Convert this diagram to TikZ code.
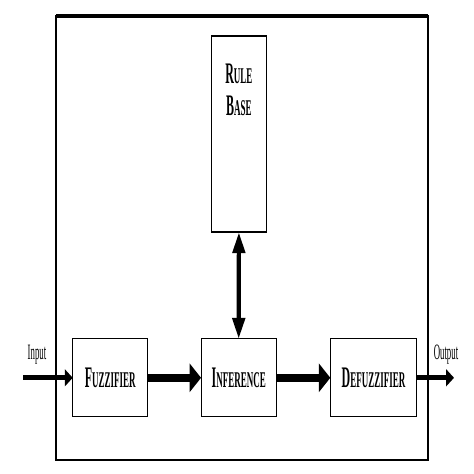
\documentclass[tikz,border=0pt]{standalone}
\usepackage{fontspec}
\usepackage{tikz}
\usetikzlibrary{arrows.meta,positioning}
\newfontfamily\blockfont[FakeStretch=0.4]{Liberation Serif}
\newcommand{\smallcap}[2]{{\blockfont\bfseries{\fontsize{17}{18}\selectfont #1}{\fontsize{12.8}{13}\selectfont #2}}}
\pgfdeclarelayer{edgelayer}
\pgfdeclarelayer{nodelayer}
\pgfsetlayers{edgelayer,nodelayer,main}
\tikzstyle{block}=[rectangle, draw=black, fill=white, line width=0.6pt, inner sep=0pt, outer sep=0pt, minimum height=1.554cm]
\tikzstyle{tag}=[inner sep=0pt, font=\blockfont\fontsize{12.5}{13}\selectfont]
\tikzstyle{flow}=[-{Triangle[width=16pt,length=6.5pt]}, line width=4.5pt, draw=black]
\tikzstyle{signal}=[-{Triangle[width=9.6pt,length=4.5pt]}, line width=2.8pt, draw=black]
\tikzstyle{link}=[{Triangle[width=7pt,length=12pt]}-{Triangle[width=7pt,length=12pt]}, line width=2.4pt, draw=black]

\begin{document}
\begin{tikzpicture}[x=0.02cm, y=-0.02cm]
            \useasboundingbox (0,0) rectangle (474,474);
            \begin{pgfonlayer}{nodelayer}
                \node [style=block, minimum width=1.5cm] (fuzz) at (110.2, 377.8) {\smallcap{F}{UZZIFIER}};
                \node [style=block, minimum width=1.506cm] (infer) at (238.7, 377.8) {\smallcap{I}{NFERENCE}};
                \node [style=block, minimum width=1.728cm] (defuzz) at (373.5, 377.8) {\smallcap{D}{EFUZZIFIER}};
                \node [style=block, minimum width=1.086cm, minimum height=3.926cm] (rules) at (238.9, 134) {};
                \node [align=center, inner sep=0pt] (rulestext) at (238.9, 90) {\smallcap{R}{ULE}\\[6pt]\smallcap{B}{ASE}};

                \coordinate (in) at (23, 377.8);
                \coordinate (out) at (454, 377.8);
                \node [style=tag] (inlabel) at (37, 355) {Input};
                \node [style=tag] (outlabel) at (446, 355) {Output};
            \end{pgfonlayer}
            \begin{pgfonlayer}{edgelayer}
                % frame
                \draw [line width=0.6pt] (56, 16) rectangle (428, 460);
                \draw [line width=1.8pt] (56, 16) -- (428, 16);
                \draw [line width=1.2pt] (56, 460) -- (428, 460);
            \end{pgfonlayer}
            \draw [line width=1.2pt] (rules.north west) -- (rules.north east);
            \draw [line width=1.2pt] (rules.south west) -- (rules.south east);

            \draw [style=signal] (in) to (fuzz.west);
            \draw [style=flow] (fuzz) to (infer);
            \draw [style=flow] (infer) to (defuzz);
            \draw [style=signal] (defuzz.east) to (out);
            \draw [style=link] (rules.south) to (infer.north);
        \end{tikzpicture}
\end{document}
